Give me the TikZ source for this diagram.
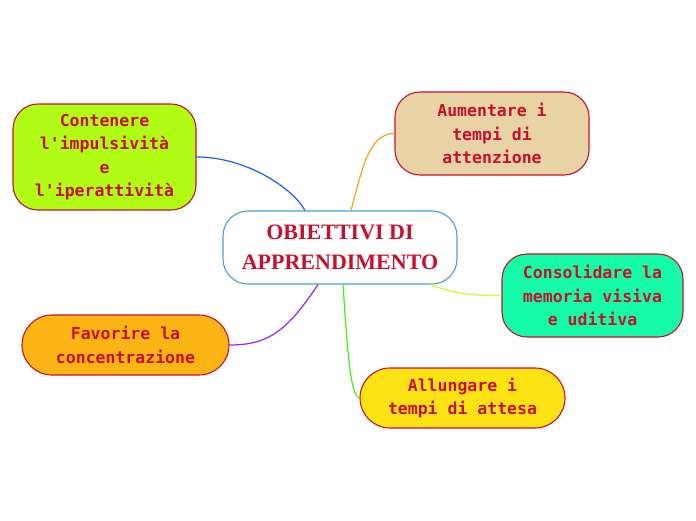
\documentclass[tikz,border=0pt]{standalone}
\usepackage{fontspec}
\setmainfont{Liberation Serif}
\setmonofont{DejaVu Sans Mono}
\definecolor{crimson}{HTML}{C8102E}
\definecolor{skyline}{HTML}{4A9FD8}
\definecolor{lime}{HTML}{B0FC14}
\definecolor{tan}{HTML}{E8D3A5}
\definecolor{mint}{HTML}{14FCA8}
\definecolor{amber}{HTML}{FBB515}
\definecolor{sun}{HTML}{FDE314}
\begin{document}
\begin{tikzpicture}[x=1pt,y=-1pt,
  goal/.style={draw=crimson,line width=1.1pt,text=crimson,rounded corners=25pt,
    align=center,inner sep=0pt,font=\ttfamily\bfseries\fontsize{16.5}{23.5}\selectfont},
  link/.style={line width=1.2pt}]
\useasboundingbox (0,0) rectangle (696,520);
\node[draw=skyline,line width=1.1pt,fill=white,rounded corners=25pt,text=crimson,align=center,
  minimum width=234pt,minimum height=73pt,font=\bfseries\fontsize{22}{30}\selectfont]
  (obj) at (340,247.5) {OBIETTIVI DI\\APPRENDIMENTO};
\node[goal,fill=lime,minimum width=183pt,minimum height=106pt] (cont) at (104.5,157)
  {Contenere~\\l'impulsività~\\e~\\l'iperattività};
\node[goal,fill=tan,minimum width=194pt,minimum height=83pt] (aum) at (492,133.5)
  {Aumentare i~\\tempi di~\\attenzione};
\node[goal,fill=mint,minimum width=181pt,minimum height=83pt] (cons) at (592.5,295.5)
  {Consolidare la\\memoria visiva\\e uditiva};
\node[goal,fill=amber,rounded corners=30pt,minimum width=207pt,minimum height=60pt] (fav) at (125.5,345)
  {Favorire la\\concentrazione};
\node[goal,fill=sun,rounded corners=30pt,minimum width=205pt,minimum height=60pt] (all) at (462.5,398)
  {Allungare i~\\tempi di attesa};
% connectors
\draw[link,color={rgb,255:red,26;green,92;blue,245}] (cont.east) .. controls +(50,0) and +(-12,-22) .. ([xshift=-35pt]obj.north);
\draw[link,color={rgb,255:red,249;green,160;blue,27}] ([xshift=11pt]obj.north) .. controls +(12,-45) and +(-25,0) .. (aum.west);
\draw[link,color={rgb,255:red,214;green,245;blue,58}] ([xshift=90pt]obj.south) .. controls +(25,9) and +(-35,0) .. (cons.west);
\draw[link,color={rgb,255:red,68;green,238;blue,17}] ([xshift=3pt]obj.south) .. controls +(6,90) and +(-8,-5) .. (all.west);
\draw[link,color={rgb,255:red,160;green,32;blue,240}] ([xshift=-22pt]obj.south) .. controls +(-30,45) and +(40,0) .. (fav.east);
\end{tikzpicture}
\end{document}
